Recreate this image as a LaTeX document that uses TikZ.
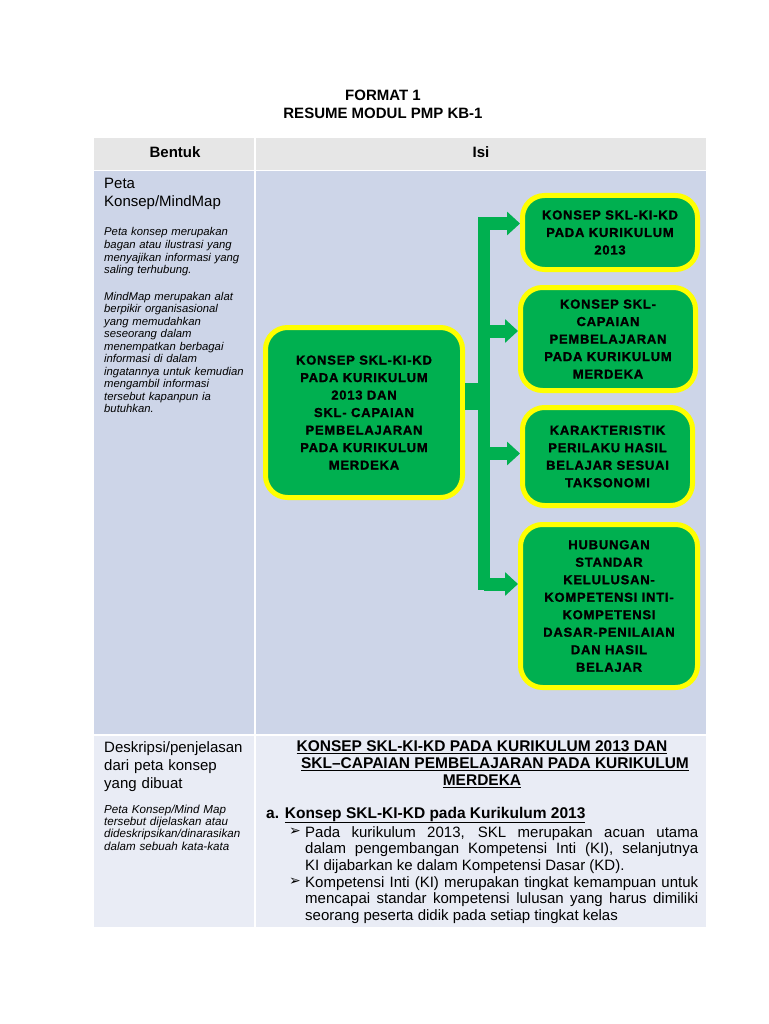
\documentclass[tikz,border=0pt]{standalone}
\usepackage{fontspec}
\setmainfont{Liberation Sans}
\newfontfamily\mapfont[UprightFont={Liberation Sans Bold}, FakeBold=1.4, LetterSpace=6]{Liberation Sans}
\newfontfamily\symfont{DejaVu Sans}
\usetikzlibrary{arrows.meta}
\definecolor{hdrgray}{HTML}{E6E6E6}
\definecolor{rowblue}{HTML}{CDD5E8}
\definecolor{rowlight}{HTML}{E9ECF5}
\definecolor{mapgreen}{HTML}{00B050}
\definecolor{mapyellow}{HTML}{FFFF00}
\begin{document}
\begin{tikzpicture}[x=1pt,y=-1pt,
  mapbox/.style={draw=mapyellow, fill=mapgreen, line width=5pt, rounded corners=22pt,
    align=center, inner sep=0pt,
    font=\mapfont\fontsize{13}{17.5}\selectfont},
  link/.style={draw=mapgreen, line width=13pt},
  tipend/.style={-{Triangle[length=13pt,width=23pt]}},
  titletext/.style={font=\bfseries\fontsize{15}{17}\selectfont, inner sep=0pt},
  headtext/.style={font=\bfseries\fontsize{15.5}{17}\selectfont, inner sep=0pt},
  bigleft/.style={font=\fontsize{15}{17.5}\selectfont, text width=150pt, align=left, inner sep=0pt, anchor=base west},
  smallleft/.style={font=\itshape\fontsize{11.3}{12.5}\selectfont, text width=150pt, align=left, inner sep=0pt, anchor=base west},
  bullet/.style={font=\symfont\fontsize{14}{14}\selectfont, inner sep=0pt},
  bodytext/.style={font=\fontsize{15}{16.8}\selectfont, text width=393pt, align=justify, inner sep=0pt, anchor=base west}
]
\useasboundingbox[fill=white] (0,0) rectangle (768,1024);

% title
\node[titletext] (t1) at (383,95) {FORMAT 1};
\node[titletext] (t2) at (383,113) {RESUME MODUL PMP KB-1};

% table cells
\fill[hdrgray] (94,138) rectangle (254,170);
\fill[hdrgray] (256,138) rectangle (706,170);
\fill[rowblue] (94,171) rectangle (254,734);
\fill[rowblue] (256,171) rectangle (706,734);
\fill[rowlight] (94,736) rectangle (254,927);
\fill[rowlight] (256,736) rectangle (706,927);

\node[titletext] (h1) at (175,152) {Bentuk};
\node[titletext] (h2) at (481,152) {Isi};

% left column, row 2
\node[bigleft] (l1) at (104,189) {Peta\\Konsep/MindMap};
\node[smallleft] (l2) at (104,236) {Peta konsep merupakan\\bagan atau ilustrasi yang\\menyajikan informasi yang\\saling terhubung.};
\node[smallleft] (l3) at (104,300) {MindMap merupakan alat\\berpikir organisasional\\yang memudahkan\\seseorang dalam\\menempatkan berbagai\\informasi di dalam\\ingatannya untuk kemudian\\mengambil informasi\\tersebut kapanpun ia\\butuhkan.};

% mind map
\node[mapbox, minimum width=197pt, minimum height=170pt] (c) at (364,412.5)
  {KONSEP SKL-KI-KD\\PADA KURIKULUM\\2013 DAN\\SKL- CAPAIAN\\PEMBELAJARAN\\PADA KURIKULUM\\MERDEKA};
\node[mapbox, minimum width=175pt, minimum height=74pt] (b1) at (610,232.5)
  {KONSEP SKL-KI-KD\\PADA KURIKULUM\\2013};
\node[mapbox, minimum width=175pt, minimum height=103pt] (b2) at (608,339)
  {KONSEP SKL-\\CAPAIAN\\PEMBELAJARAN\\PADA KURIKULUM\\MERDEKA};
\node[mapbox, minimum width=170pt, minimum height=98pt] (b3) at (607.5,456.5)
  {KARAKTERISTIK\\PERILAKU HASIL\\BELAJAR SESUAI\\TAKSONOMI};
\node[mapbox, minimum width=177pt, minimum height=163pt] (b4) at (609,606)
  {HUBUNGAN\\STANDAR\\KELULUSAN-\\KOMPETENSI INTI-\\KOMPETENSI\\DASAR-PENILAIAN\\DAN HASIL\\BELAJAR};

\coordinate (s) at (484,396.5);
\coordinate (j1) at (484,223.5);
\coordinate (j2) at (484,331);
\coordinate (j3) at (484,453.5);
\coordinate (j4) at (484,584);

\draw[draw=mapgreen, line width=27pt] (c.east |- s) -- (s);
\draw[draw=mapgreen, line width=12pt, line cap=rect] (j1) -- (j4);
\draw[link, tipend] (j1) -- (b1.west |- j1);
\draw[link, tipend] (j2) -- (b2.west |- j2);
\draw[link, tipend] (j3) -- (b3.west |- j3);
\draw[link, tipend] (j4) -- (b4.west |- j4);

% row 3 left
\node[bigleft, font=\fontsize{15}{18}\selectfont] (d1) at (104,752) {Deskripsi/penjelasan\\dari peta konsep\\yang dibuat};
\node[smallleft, font=\itshape\fontsize{11.6}{12.4}\selectfont] (d2) at (104,813) {Peta Konsep/Mind Map\\tersebut dijelaskan atau\\dideskripsikan/dinarasikan\\dalam sebuah kata-kata};

% row 3 right
\node[headtext] (r1) at (482,747) {\underline{KONSEP SKL-KI-KD PADA KURIKULUM 2013 DAN}};
\node[headtext] (r2) at (495,764) {\underline{SKL--CAPAIAN PEMBELAJARAN PADA KURIKULUM}};
\node[headtext] (r3) at (482,781) {\underline{MERDEKA}};
\node[headtext, anchor=west] (r4) at (266,815) {a. \underline{Konsep SKL-KI-KD pada Kurikulum 2013}};

\node[bullet] (u1) at (295,832) {➢};
\node[bodytext] (p1) at (305,837) {Pada kurikulum 2013, SKL merupakan acuan utama\linebreak dalam pengembangan Kompetensi Inti (KI), selanjutnya\linebreak KI dijabarkan ke dalam Kompetensi Dasar (KD).};
\node[bullet] (u2) at (295,882) {➢};
\node[bodytext] (p2) at (305,887) {Kompetensi Inti (KI) merupakan tingkat kemampuan untuk\linebreak mencapai standar kompetensi lulusan yang harus dimiliki\linebreak seorang peserta didik pada setiap tingkat kelas};
\end{tikzpicture}
\end{document}
